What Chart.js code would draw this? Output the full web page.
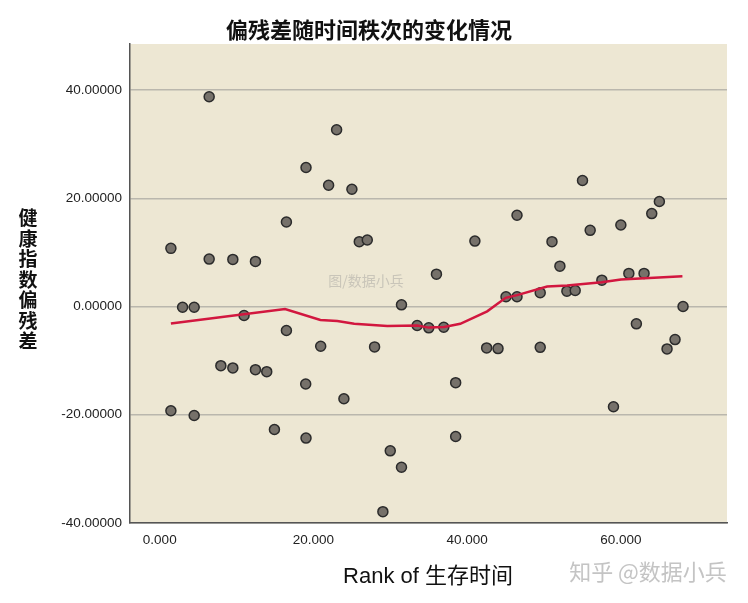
<!DOCTYPE html>
<html>
<head>
<meta charset="utf-8">
<script src="https://cdn.jsdelivr.net/npm/chart.js@4"></script>
<style>
  body { margin: 0; background: #ffffff; }
  canvas { display: block; }
</style>
</head>
<body>
<canvas id="myChart" width="748" height="603"></canvas>
<script>
// Rank of survival time vs partial residual
const rankX = [
  1.45, 1.45, 2.97, 4.48, 4.48, 6.43, 6.43, 7.95, 9.51, 9.51,
  10.97, 12.45, 12.45, 13.92, 14.92, 16.48, 16.48, 19.03, 18.99, 19.03,
  20.94, 21.97, 23.01, 23.96, 25.0, 25.96, 27.0, 27.95, 29.03, 29.99,
  31.45, 31.45, 33.49, 35.0, 36.0, 36.95, 38.5, 38.5, 41.0, 42.53,
  44.01, 45.05, 46.48, 46.48, 49.5, 49.5, 51.03, 52.06, 52.97, 54.05,
  55.0, 56.0, 57.52, 59.03, 59.99, 61.03, 62.01, 63.01, 64.01, 65.0,
  66.0, 67.04, 68.08
];
const residY = [
  10.74, -19.26, -0.13, -0.13, -20.13, 38.76, 8.76, -10.93, 8.7, -11.35,
  -1.67, 8.33, -11.67, -12.04, -22.72, 15.61, -4.44, 25.69, -14.31, -24.31,
  -7.35, 22.41, 32.65, -17.04, 21.67, 11.98, 12.28, -7.46, -37.9, -26.67,
  0.31, -29.69, -3.52, -3.94, 5.98, -3.83, -14.07, -24.02, 12.09, -7.65,
  -7.78, 1.8, 1.8, 16.85, 2.54, -7.54, 11.98, 7.46, 2.83, 2.96,
  23.28, 14.07, 4.87, -18.52, 15.06, 6.11, -3.2, 6.11, 17.17, 19.39,
  -7.83, -6.11, 0.0
];

// smoothed fit line
const fitX = [1.45, 16.3, 20.9, 23.1, 25.3, 29.6, 33.5, 35.0, 37.0, 39.1, 42.6, 45.0, 46.5, 50.4, 53.0, 57.5, 60.0, 68.0];
const fitY = [-3.15, -0.45, -2.5, -2.7, -3.2, -3.6, -3.5, -3.9, -3.8, -3.2, -0.9, 1.6, 2.1, 3.7, 3.9, 4.5, 5.0, 5.6];

const yTicks = [-40, -20, 0, 20, 40];
const xTicks = [0, 20, 40, 60];

const chartTitle = "偏残差随时间秩次的变化情况";
const yTitle = "健康指数偏残差";
const xTitle = "Rank of 生存时间";

const points = rankX.map(function (x, i) { return { x: x, y: residY[i] }; });
const fitLine = fitX.map(function (x, i) { return { x: x, y: fitY[i] }; });

// beige plot background
const bgPlugin = {
  id: "plotBg",
  beforeDraw: function (chart) {
    const a = chart.chartArea;
    const ctx = chart.ctx;
    ctx.save();
    ctx.fillStyle = "#ede7d3";
    ctx.fillRect(a.left, a.top, a.right - a.left, a.bottom - a.top);
    ctx.restore();
  }
};

// titles + watermarks
const textPlugin = {
  id: "texts",
  afterDraw: function (chart) {
    const ctx = chart.ctx;
    ctx.save();
    ctx.textAlign = "center";
    ctx.textBaseline = "middle";
    ctx.fillStyle = "#111111";
    ctx.font = 'bold 22px "Noto Sans CJK SC"';
    ctx.fillText(chartTitle, 369, 30);

    ctx.font = 'bold 19px "Noto Sans CJK SC"';
    for (var i = 0; i < yTitle.length; i++) {
      ctx.fillText(yTitle[i], 28, 218 + i * 20.5);
    }

    ctx.font = '22px "Liberation Sans", "Noto Sans CJK SC"';
    ctx.fillText(xTitle, 428, 577);

    ctx.fillStyle = "#c9c5b9";
    ctx.font = '14px "Noto Sans CJK SC"';
    ctx.fillText("图/数据小兵", 366, 281);

    ctx.fillStyle = "#c4c4c4";
    ctx.font = '22px "Noto Sans CJK SC"';
    ctx.fillText("知乎 @数据小兵", 648, 572);
    ctx.restore();
  }
};

const config = {
  type: "scatter",
  data: {
    datasets: [
      {
        type: "line",
        data: fitLine,
        borderColor: "#d2173f",
        borderWidth: 2.5,
        pointRadius: 0,
        fill: false,
        tension: 0,
        order: 0
      },
      {
        data: points,
        backgroundColor: "#76716a",
        borderColor: "#2b2b2b",
        borderWidth: 1.5,
        pointRadius: 5,
        order: 1
      }
    ]
  },
  options: {
    responsive: false,
    animation: false,
    layout: { padding: { top: 44, right: 21, left: 0, bottom: 0 } },
    plugins: {
      legend: { display: false },
      title: { display: false },
      tooltip: { enabled: false }
    },
    scales: {
      x: {
        type: "linear",
        min: -3.87,
        max: 73.8,
        afterFit: function (scale) { scale.height = 80; },
        afterBuildTicks: function (scale) {
          scale.ticks = xTicks.map(function (v) { return { value: v }; });
        },
        grid: { display: false, drawTicks: false },
        border: { display: true, color: "#555555", width: 1.5 },
        ticks: {
          padding: 9,
          color: "#222222",
          font: { size: 13.5, family: "Liberation Sans" },
          callback: function (v) { return Number(v).toFixed(3); }
        }
      },
      y: {
        type: "linear",
        min: -40,
        max: 48.5,
        afterFit: function (scale) { scale.width = 130; },
        afterBuildTicks: function (scale) {
          scale.ticks = yTicks.map(function (v) { return { value: v }; });
        },
        grid: { color: "#bab7ad", lineWidth: 1.5, drawTicks: false },
        border: { display: true, color: "#555555", width: 1.5 },
        ticks: {
          padding: 8,
          color: "#222222",
          font: { size: 13.5, family: "Liberation Sans" },
          callback: function (v) { return Number(v).toFixed(5); }
        }
      }
    }
  },
  plugins: [bgPlugin, textPlugin]
};

window.myChart = new Chart(document.getElementById("myChart"), config);
</script>
</body>
</html>
